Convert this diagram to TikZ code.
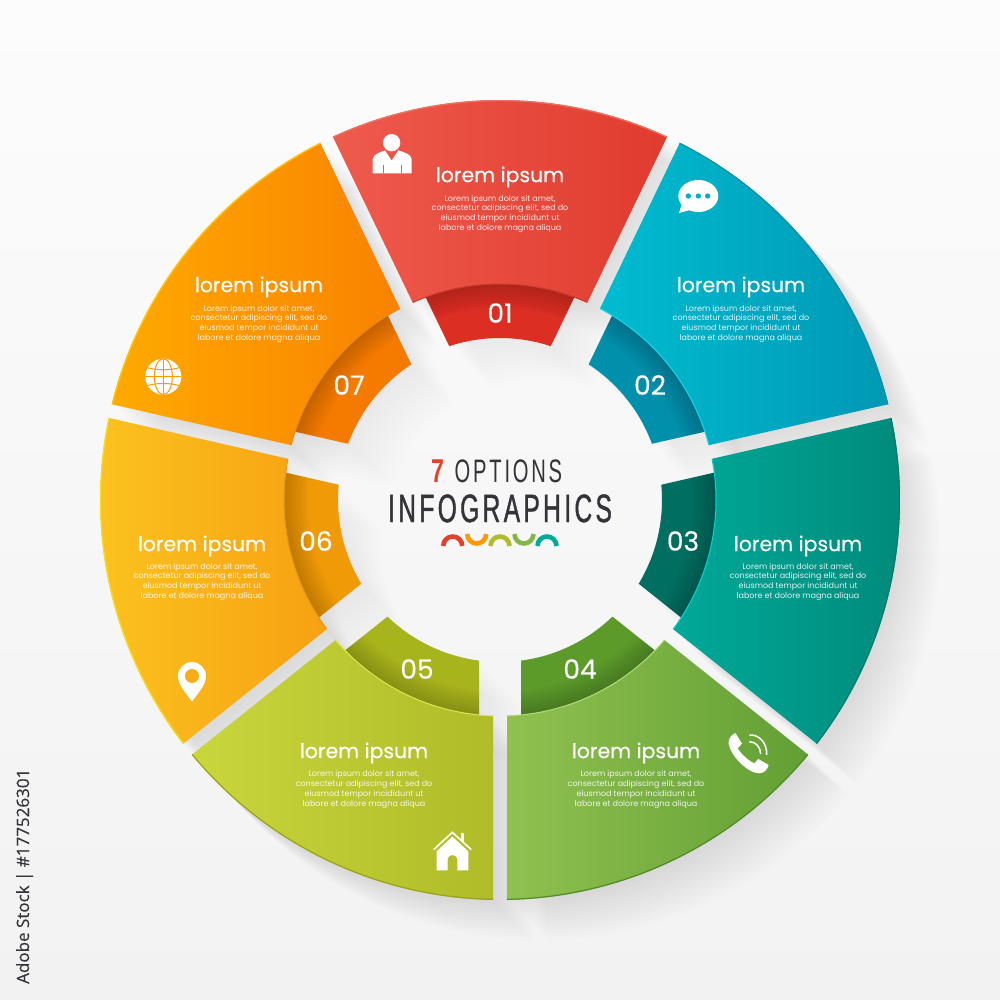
\documentclass[tikz,border=0pt]{standalone}
\usepackage{fontspec}
\newfontfamily\pop[FakeBold=0.25]{Poppins}
\newfontfamily\popb{Poppins}
\newfontfamily\condl[FakeStretch=0.62,LetterSpace=8.6]{Liberation Sans}
\newfontfamily\condm[FakeStretch=0.62,LetterSpace=8.6,FakeBold=1.0]{Liberation Sans}
\newfontfamily\condb[FakeStretch=0.7]{Liberation Sans Bold}
\newfontfamily\opens[FakeBold=0.3]{Open Sans}
\definecolor{s1l}{HTML}{EE5B4D}\definecolor{s1r}{HTML}{E03B2E}\definecolor{s1t}{HTML}{DC2E22}\definecolor{s1e}{HTML}{F27062}\definecolor{s1i}{HTML}{C93A2C}
\definecolor{s2l}{HTML}{00BCD0}\definecolor{s2r}{HTML}{0098B4}\definecolor{s2t}{HTML}{0090AC}\definecolor{s2e}{HTML}{0A90AA}\definecolor{s2i}{HTML}{1AD6E6}
\definecolor{s3l}{HTML}{00A999}\definecolor{s3r}{HTML}{00897A}\definecolor{s3t}{HTML}{006F62}\definecolor{s3e}{HTML}{007D6E}\definecolor{s3i}{HTML}{10D0D0}
\definecolor{s4l}{HTML}{90C150}\definecolor{s4r}{HTML}{629F34}\definecolor{s4t}{HTML}{5C9B2A}\definecolor{s4e}{HTML}{528C28}\definecolor{s4i}{HTML}{B5DA78}
\definecolor{s5l}{HTML}{C9D63C}\definecolor{s5r}{HTML}{B0BC28}\definecolor{s5t}{HTML}{A8B41C}\definecolor{s5e}{HTML}{98A41A}\definecolor{s5i}{HTML}{DDE84A}
\definecolor{s6l}{HTML}{FBC41F}\definecolor{s6r}{HTML}{F7A112}\definecolor{s6t}{HTML}{F09A08}\definecolor{s6e}{HTML}{F7DC20}\definecolor{s6i}{HTML}{E89A10}
\definecolor{s7l}{HTML}{FFAA00}\definecolor{s7r}{HTML}{F98200}\definecolor{s7t}{HTML}{F57A00}\definecolor{s7e}{HTML}{FFC800}\definecolor{s7i}{HTML}{E88A10}
\definecolor{inkdark}{HTML}{333338}
\definecolor{bgtop}{HTML}{FCFCFC}\definecolor{bgbot}{HTML}{F2F2F2}
\newcommand\calcring[4]{% angle, offset, Router, Rinner
 \pgfmathsetmacro\bo{25.714-asin(#2/#3)}\pgfmathsetmacro\bi{25.714-asin(#2/#4)}%
 \pgfmathsetmacro\oA{#1+\bo}\pgfmathsetmacro\oB{#1-\bo}%
 \pgfmathsetmacro\iA{#1+\bi}\pgfmathsetmacro\iB{#1-\bi}%
 \def\Ro{#3}\def\Ri{#4}}
\newcommand\ringpath{(\oA:\Ro) arc[start angle=\oA,end angle=\oB,radius=\Ro] -- (\iB:\Ri) arc[start angle=\iB,end angle=\iA,radius=\Ri] -- cycle}
\tikzset{
 ttl/.style={text=white,font=\pop\fontsize{20.4}{22}\selectfont,inner sep=0pt},
 bodytxt/.style={text=white,text opacity=.88,align=center,font=\popb\fontsize{8}{9.95}\selectfont,inner sep=0pt},
 numtxt/.style={text=white,font=\pop\fontsize{26.5}{28}\selectfont,inner sep=0pt},
 icon/.style={fill=white,draw=none},
}
\newcommand\lorem{Lorem ipsum dolor sit amet,\\consectetur adipiscing elit, sed do\\eiusmod tempor incididunt ut\\labore et dolore magna aliqua}
\begin{document}
\begin{tikzpicture}[x=1pt,y=1pt]
\useasboundingbox (0,0) rectangle (1000,-1000);
\shade[top color=bgtop,bottom color=bgbot] (0,0) rectangle (1000,-1000);
\begin{scope}[shift={(500,-500)}]
% shadows
\foreach \a in {90,38.571,-12.857,-64.286,-115.714,-167.143,141.429}{
 \calcring{\a}{21}{222}{162}
 \foreach \k in {2,5,...,44}{\fill[black,opacity=.005,shift={(\k,-\k)}] \ringpath;}
 \calcring{\a}{7}{400}{216}
 \foreach \k in {1,4,...,40}{\fill[black,opacity=.009,shift={(\k,-\k)}] \ringpath;}
}
% tabs and big segments
\foreach \n/\a in {1/90,2/38.571,3/-12.857,4/-64.286,5/-115.714,6/-167.143,7/141.429}{
 \calcring{\a}{21}{222}{162}
 \fill[s\n t] \ringpath;
 \begin{scope}
  \clip \ringpath;
  \foreach \w in {3,6,...,24}{\draw[black,opacity=.022,line width=2*\w] (0,0) circle[radius=216];}
 \end{scope}
 \calcring{\a}{7}{400}{216}
 \shade[left color=s\n l,right color=s\n r] \ringpath;
 \draw[s\n e,line width=1.2] (\oA:399.4) arc[start angle=\oA,end angle=\oB,radius=399.4];
 \draw[s\n i,line width=1] (\iB:216) arc[start angle=\iB,end angle=\iA,radius=216];
}
\end{scope}
% texts
\foreach \nm/\x/\y/\yy in {a/500/177/214,b/741/287/324,c/798/546/582,d/636/753/789.5,e/364/753/789.5,f/202/546/582,g/259/287/324}{
 \node[ttl] (t\nm) at (\x,-\y) {lorem ipsum};
 \node[bodytxt] (b\nm) at (\x,-\yy) {\lorem};
}
\node[numtxt] (n1) at (500,-313) {01};
\node[numtxt] (n2) at (650,-385) {02};
\node[numtxt] (n3) at (683,-541) {03};
\node[numtxt] (n4) at (580,-669) {04};
\node[numtxt] (n5) at (417,-669) {05};
\node[numtxt] (n6) at (316,-541) {06};
\node[numtxt] (n7) at (349,-385) {07};
% centre title
\node[inner sep=0pt,anchor=base west] (seven) at (431,-482) {\condb\fontsize{33}{33}\selectfont\color{s1r!90!orange}7};
\node[inner sep=0pt,anchor=base west] (opt) at (454.5,-482) {\condl\fontsize{32.5}{33}\selectfont\color{inkdark}OPTIONS};
\node[inner sep=0pt,anchor=base] (info) at (500,-522) {\condm\fontsize{39.5}{40}\selectfont\color{inkdark}INFOGRAPHICS};
% squiggle
\begin{scope}[line width=4.6]
\draw[color=s1r!90!orange] (443.2,-546) arc[start angle=180,end angle=0,radius=9.5];
\draw[color=s7l!90!red] (467.2,-534) arc[start angle=180,end angle=360,radius=9.5];
\draw[color=s5r] (490.5,-546) arc[start angle=180,end angle=0,radius=9.5];
\draw[color=s4l!70!s4r] (514.5,-534) arc[start angle=180,end angle=360,radius=9.5];
\draw[color=s3l] (537.5,-546) arc[start angle=180,end angle=0,radius=9.5];
\end{scope}
% person icon
\begin{scope}[shift={(320,-90)},x=.3333pt,y=-.3333pt]
\fill[icon] (215,158) circle[radius=26];
\fill[icon] (158,250)--(158,208) .. controls (160,192) and (178,188) .. (195,181) -- (215,212) -- (235,181) .. controls (255,188) and (273,192) .. (275,208) -- (275,250) -- cycle;
\draw[s1l,line width=.7] (190,226)--(190,250) (243,226)--(243,250);
\end{scope}
% speech bubble
\begin{scope}[shift={(580,-130)},x=.3333pt,y=-.3333pt]
\fill[icon] (355,198) ellipse[x radius=60,y radius=48];
\fill[icon] (306,220)--(297,249)--(345,236)--cycle;
\foreach \xx in {325,355,383}{\fill[s2l!60!s2r] (\xx,198) circle[radius=8];}
\end{scope}
% cloud
\fill[icon] (849,463) circle[radius=8] (861,457) circle[radius=10.5] (873.5,462.5) circle[radius=8.5];
\fill[icon] (849,471) rectangle (874,460);
% phone
\begin{scope}[shift={(500,-600)},x=.3333pt,y=-.3333pt]
\fill[icon] (706,399) -- (726,431) -- (713,445) .. controls (724,463) and (745,482) .. (763,490) -- (775,477) -- (806,495) .. controls (803,508) and (792,520) .. (778,520) .. controls (745,520) and (692,470) .. (686,430) .. controls (684,418) and (694,404) .. (706,399) -- cycle;
\draw[white,line width=1.5] (748,425) .. controls (768,425) and (782,442) .. (782,462);
\draw[white,line width=1.5] (748,405) .. controls (780,403) and (802,432) .. (800,465);
\end{scope}
% house
\begin{scope}[shift={(100,-620)},x=.3333pt,y=-.3333pt]
\fill[icon] (1082,640) rectangle (1092,662);
\draw[white,line width=1.6] (1001,689) -- (1057,637) -- (1114,689);
\fill[icon] (1010,751) -- (1010,694) -- (1057,650) -- (1105,694) -- (1105,751) -- (1072,751) -- (1072,720) .. controls (1072,700) and (1043,700) .. (1043,720) -- (1043,751) -- cycle;
\end{scope}
% pin
\begin{scope}[shift={(100,-620)},x=.3333pt,y=-.3333pt]
\fill[icon] (276,245) .. controls (255,215) and (234,195) .. (234,168) .. controls (234,145) and (253,126) .. (276,126) .. controls (299,126) and (318,145) .. (318,168) .. controls (318,195) and (297,215) .. (276,245) -- cycle;
\fill[s6l!35!s6r] (276,168) circle[radius=21];
\end{scope}
% globe
\begin{scope}[shift={(100,-130)},x=.3333pt,y=-.3333pt]
\fill[icon] (190,740) circle[radius=54];
\begin{scope}
\clip (190,740) circle[radius=54];
\draw[s7l!60!s7r,line width=1] (190,686)--(190,794) (136,740)--(244,740);
\draw[s7l!60!s7r,line width=1] (190,740) ellipse[x radius=27,y radius=54];
\draw[s7l!60!s7r,line width=1] (140,712) .. controls (165,722) and (215,722) .. (240,712);
\draw[s7l!60!s7r,line width=1] (140,768) .. controls (165,758) and (215,758) .. (240,768);
\end{scope}
\end{scope}
% edge credit
\node[rotate=90,anchor=base west,inner sep=0pt,text=inkdark] (credit) at (29,-984) {\opens\fontsize{17}{17}\selectfont Adobe Stock | \#177526301};
\end{tikzpicture}
\end{document}
